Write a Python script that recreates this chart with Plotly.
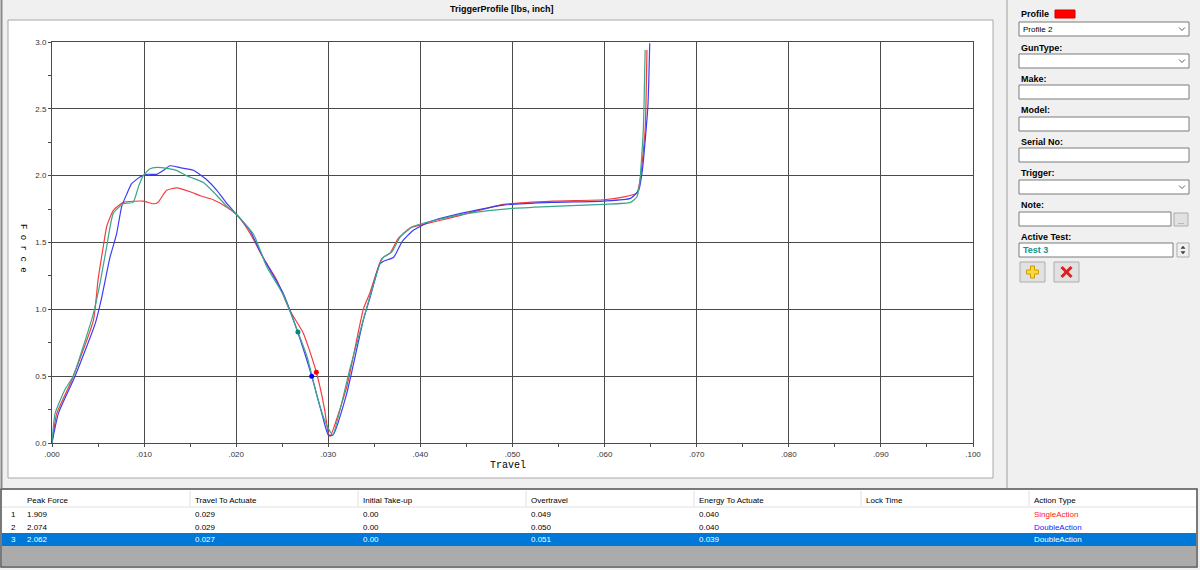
import plotly.graph_objects as go

# ---------------- data ----------------
x_ticks = [0.0, 0.01, 0.02, 0.03, 0.04, 0.05, 0.06, 0.07, 0.08, 0.09, 0.10]
x_tick_labels = [".000", ".010", ".020", ".030", ".040", ".050", ".060", ".070", ".080", ".090", ".100"]
x_minor = [0.005, 0.015, 0.025, 0.035, 0.045, 0.055, 0.065, 0.075, 0.085, 0.095]
y_ticks = [0.0, 0.5, 1.0, 1.5, 2.0, 2.5, 3.0]
y_tick_labels = ["0.0", "0.5", "1.0", "1.5", "2.0", "2.5", "3.0"]
y_minor = [0.25, 0.75, 1.25, 1.75, 2.25, 2.75]

test1_x = [0, .00051, .00214, .0045, .0050, .00557, .00594, .00666, .00775, .0099, .0110, .0115,
           .01245, .01354, .0150, .0161, .0175, .0186, .0201, .0215, .0229, .0244, .0258, .0273,
           .0287, .0296, .0300, .0302, .0320, .0338, .0345, .0358, .0367, .0376, .0389, .0400,
           .0436, .0490, .0544, .0599, .0620, .0635, .0639, .0644, .0646]
test1_y = [0, .22, .47, .92, 1.22, 1.47, 1.62, 1.74, 1.80, 1.81, 1.79, 1.80,
           1.89, 1.909, 1.88, 1.85, 1.82, 1.78, 1.705, 1.57, 1.39, 1.22, .995, .82,
           .53, .25, .07, .05, .42, 1.0, 1.12, 1.38, 1.42, 1.53, 1.61, 1.63,
           1.69, 1.785, 1.81, 1.82, 1.84, 1.87, 1.99, 2.34, 2.94]

test2_x = [0, .00069, .0025, .0047, .0054, .0063, .0070, .00757, .0081, .00865, .00955, .0103,
           .01137, .0121, .0128, .0139, .01535, .0168, .0179, .0190, .0201, .0215, .0226, .0233,
           .0251, .0266, .0282, .0293, .0300, .0305, .0320, .0338, .0345, .0356, .0360, .0371,
           .0380, .0392, .0410, .0436, .0490, .0544, .0599, .0628, .0637, .0641, .0647, .0649]
test2_y = [0, .22, .50, .895, 1.09, 1.39, 1.56, 1.77, 1.86, 1.94, 1.99, 2.01,
           2.01, 2.04, 2.074, 2.06, 2.04, 1.97, 1.89, 1.79, 1.705, 1.59, 1.43, 1.34,
           1.12, .845, .50, .22, .06, .06, .37, .92, 1.08, 1.34, 1.36, 1.39,
           1.505, 1.59, 1.655, 1.705, 1.78, 1.80, 1.81, 1.83, 1.89, 2.04, 2.52, 2.99]

test3_x = [0, .00033, .00141, .0023, .0045, .0052, .00594, .00666, .00775, .0088, .0094, .0099,
           .0106, .0114, .01245, .0135, .0146, .01535, .0164, .0175, .0190, .0201, .0219, .0233,
           .0251, .0267, .0277, .0287, .0296, .0302, .0305, .0324, .0342, .0356, .0360, .0369,
           .0378, .0392, .0418, .0454, .0499, .0544, .0599, .0628, .0635, .0638, .0642, .0644]
test3_y = [0, .22, .40, .50, .97, 1.19, 1.47, 1.72, 1.79, 1.80, 1.92, 2.00,
           2.05, 2.062, 2.055, 2.04, 2.00, 1.98, 1.95, 1.88, 1.77, 1.705, 1.56, 1.32,
           1.11, .83, .645, .37, .17, .085, .06, .57, 1.02, 1.34, 1.39, 1.43,
           1.54, 1.62, 1.67, 1.72, 1.755, 1.77, 1.785, 1.80, 1.84, 1.94, 2.34, 2.94]

actuate_x = [0.0287, 0.0282, 0.0267]
actuate_y = [0.53, 0.50, 0.83]

table_headers = ["Peak Force", "Travel To Actuate", "Initial Take-up", "Overtravel",
                 "Energy To Actuate", "Lock Time", "Action Type"]
peak_force = ["1.909", "2.074", "2.062"]
travel_to_actuate = ["0.029", "0.029", "0.027"]
initial_takeup = ["0.00", "0.00", "0.00"]
overtravel = ["0.049", "0.050", "0.051"]
energy_to_actuate = ["0.040", "0.040", "0.039"]
lock_time = ["", "", ""]
action_type = ["SingleAction", "DoubleAction", "DoubleAction"]

# ---------------- styles ----------------
W, H = 1200, 570
def X(p): return p / W
def Y(p): return 1 - p / H

line_colors = ["#f23c3c", "#3c3cf5", "#3aa68a"]
marker_colors = ["#ff0000", "#0000ff", "#008b7a"]
GRID = "#4a4a4a"
SANS = "Liberation Sans, Arial, sans-serif"
MONO = "Liberation Mono, Courier New, monospace"

fig = go.Figure()
series = [(test1_x, test1_y), (test2_x, test2_y), (test3_x, test3_y)]
for i, (sx, sy) in enumerate(series):
    fig.add_trace(go.Scatter(x=sx, y=sy, mode="lines",
                             line=dict(color=line_colors[i], width=1.2, shape="spline", smoothing=0.5),
                             name=f"Test {i+1}", showlegend=False, hoverinfo="skip"))
for i in range(3):
    fig.add_trace(go.Scatter(x=[actuate_x[i]], y=[actuate_y[i]], mode="markers",
                             marker=dict(color=marker_colors[i], size=5, symbol="circle"),
                             showlegend=False, hoverinfo="skip"))

shapes = []
ann = []

def rect(x0, y0, x1, y1, fill="white", line="#a0a0a0", lw=1, layer="below"):
    shapes.append(dict(type="rect", xref="paper", yref="paper", x0=X(x0), x1=X(x1), y0=Y(y1), y1=Y(y0),
                       fillcolor=fill, line=dict(color=line, width=lw), layer=layer))

def hline(x0, x1, y, color, lw=1):
    shapes.append(dict(type="line", xref="paper", yref="paper", x0=X(x0), x1=X(x1), y0=Y(y), y1=Y(y),
                       line=dict(color=color, width=lw), layer="above"))

def vline(x, y0, y1, color, lw=1):
    shapes.append(dict(type="line", xref="paper", yref="paper", x0=X(x), x1=X(x), y0=Y(y0), y1=Y(y1),
                       line=dict(color=color, width=lw), layer="above"))

def text(x, y, s, size=8, color="black", bold=False, anchor="left", family=SANS, angle=0):
    ann.append(dict(x=X(x), y=Y(y), xref="paper", yref="paper", text=(f"<b>{s}</b>" if bold else s),
                    showarrow=False, xanchor=anchor, yanchor="middle", textangle=angle,
                    font=dict(size=size, color=color, family=family)))

def chevron(cx, cy):
    shapes.append(dict(type="path", xref="paper", yref="paper",
                       path=f"M {X(cx-3)},{Y(cy-1.5)} L {X(cx)},{Y(cy+1.5)} L {X(cx+3)},{Y(cy-1.5)}",
                       line=dict(color="#606060", width=1), layer="above"))

# window frame / chart panel
vline(1.5, 0, 488, "#8a8a8a", 2)
rect(8, 20, 993, 478, fill="white", line="#a8a8a8")
text(502, 9, "TriggerProfile [lbs, inch]", size=9, bold=True, anchor="center")
text(23, 248, "F o r c e", size=9, family=MONO, angle=90, anchor="center")
text(508, 465, "Travel", size=10, family=MONO, anchor="center")

# right panel
vline(1007, 0, 488, "#a0a0a0", 1)
text(1019, 14, "Profile", size=9, bold=True)
rect(1055, 10, 1075, 18, fill="#ff0000", line="#d00000", layer="above")
labels = [("GunType:", 48), ("Make:", 79), ("Model:", 110), ("Serial No:", 142),
          ("Trigger:", 173), ("Note:", 205), ("Active Test:", 237)]
for s, yy in labels:
    text(1019, yy, s, size=9, bold=True)
boxes = [(22, 36, True), (54, 68, True), (85, 99, False), (117, 131, False),
         (148, 162, False), (180, 194, True)]
for y0, y1, chev in boxes:
    rect(1019, y0, 1189, y1, fill="white", line="#7a7a7a", layer="above")
    if chev:
        chevron(1182, (y0 + y1) / 2)
text(1021, 29, "Profile 2", size=8)
rect(1019, 212, 1171, 226, fill="white", line="#7a7a7a", layer="above")
rect(1174, 213, 1188, 226, fill="#e1e1e1", line="#adadad", layer="above")
text(1181, 221, "...", size=7, anchor="center", color="#555")
rect(1019, 243, 1173, 257, fill="white", line="#7a7a7a", layer="above")
text(1021, 250, "<b>Test 3</b>", size=9, color="#14908c")
rect(1177, 243, 1189, 257, fill="#f0f0f0", line="#adadad", layer="above")
shapes.append(dict(type="path", xref="paper", yref="paper",
                   path=f"M {X(1181)},{Y(248.5)} L {X(1183)},{Y(246)} L {X(1185)},{Y(248.5)} Z",
                   fillcolor="#404040", line=dict(color="#404040", width=0.5), layer="above"))
shapes.append(dict(type="path", xref="paper", yref="paper",
                   path=f"M {X(1181)},{Y(251.5)} L {X(1183)},{Y(254)} L {X(1185)},{Y(251.5)} Z",
                   fillcolor="#404040", line=dict(color="#404040", width=0.5), layer="above"))
# buttons
rect(1020, 262, 1045, 282, fill="#e1e1e1", line="#adadad", layer="above")
rect(1054, 262, 1079, 282, fill="#e1e1e1", line="#adadad", layer="above")
cx, cy, a, b = 1032.5, 272, 2, 6
plus = [(cx-a, cy-b), (cx+a, cy-b), (cx+a, cy-a), (cx+b, cy-a), (cx+b, cy+a), (cx+a, cy+a),
        (cx+a, cy+b), (cx-a, cy+b), (cx-a, cy+a), (cx-b, cy+a), (cx-b, cy-a), (cx-a, cy-a)]
shapes.append(dict(type="path", xref="paper", yref="paper",
                   path="M " + " L ".join(f"{X(px)},{Y(py)}" for px, py in plus) + " Z",
                   fillcolor="#f7d940", line=dict(color="#d09a00", width=1), layer="above"))
shapes.append(dict(type="line", xref="paper", yref="paper", x0=X(1061.5), x1=X(1071.5), y0=Y(267), y1=Y(277),
                   line=dict(color="#e02020", width=3), layer="above"))
shapes.append(dict(type="line", xref="paper", yref="paper", x0=X(1061.5), x1=X(1071.5), y0=Y(277), y1=Y(267),
                   line=dict(color="#e02020", width=3), layer="above"))

# table
rect(1, 489, 1197, 567, fill="white", line="#505050", lw=1.5)
hline(2, 1196, 507, "#e0e0e0")
col_x = [25, 193, 361, 529, 697, 864, 1032]
for cxp in col_x[1:]:
    vline(cxp - 3, 491, 506, "#e0e0e0")
for j, h in enumerate(table_headers):
    text(col_x[j], 500, h, size=8)
rect(2, 533, 1196, 546, fill="#0078d7", line="#0078d7", lw=0, layer="above")
rect(2, 546, 1196, 566, fill="#ababab", line="#ababab", lw=0, layer="above")
row_y = [514, 527, 539]
cols = [peak_force, travel_to_actuate, initial_takeup, overtravel, energy_to_actuate, lock_time, action_type]
action_colors = ["#ff2020", "#2020ff", "white"]
for r in range(3):
    base = "white" if r == 2 else "black"
    text(9, row_y[r], str(r + 1), size=8, color=base)
    for j, col in enumerate(cols):
        if col[r] == "":
            continue
        c = action_colors[r] if j == 6 else base
        text(col_x[j], row_y[r], col[r], size=8, color=c)

fig.update_layout(
    width=W, height=H, margin=dict(l=0, r=0, t=0, b=0, pad=0), autosize=False,
    paper_bgcolor="#f0f0f0", plot_bgcolor="white",
    shapes=shapes, annotations=ann, showlegend=False,
    xaxis=dict(domain=[X(52), X(973)], range=[0, 0.1], automargin=False, tickmode="array", tickvals=x_ticks,
               ticktext=x_tick_labels, showgrid=True, gridcolor=GRID, gridwidth=1, zeroline=False,
               showline=True, linecolor=GRID, linewidth=1, mirror=True, ticks="outside", ticklen=3,
               tickcolor=GRID, tickfont=dict(size=8, color="#333", family=SANS),
               minor=dict(tickmode="array", tickvals=x_minor, ticks="outside", ticklen=3,
                          tickcolor=GRID, showgrid=False), fixedrange=True),
    yaxis=dict(domain=[Y(443), Y(42)], range=[0, 3], automargin=False, tickmode="array", tickvals=y_ticks,
               ticktext=y_tick_labels, showgrid=True, gridcolor=GRID, gridwidth=1, zeroline=False,
               showline=True, linecolor=GRID, linewidth=1, mirror=True, ticks="outside", ticklen=3,
               tickcolor=GRID, tickfont=dict(size=8, color="#333", family=SANS),
               minor=dict(tickmode="array", tickvals=y_minor, ticks="outside", ticklen=3,
                          tickcolor=GRID, showgrid=False), fixedrange=True),
)
post = ("document.documentElement.style.overflow='hidden';"
        "document.body.style.margin='0';document.body.style.overflow='hidden';")
fig.write_html("out.html", config={"displayModeBar": False}, post_script=post)
